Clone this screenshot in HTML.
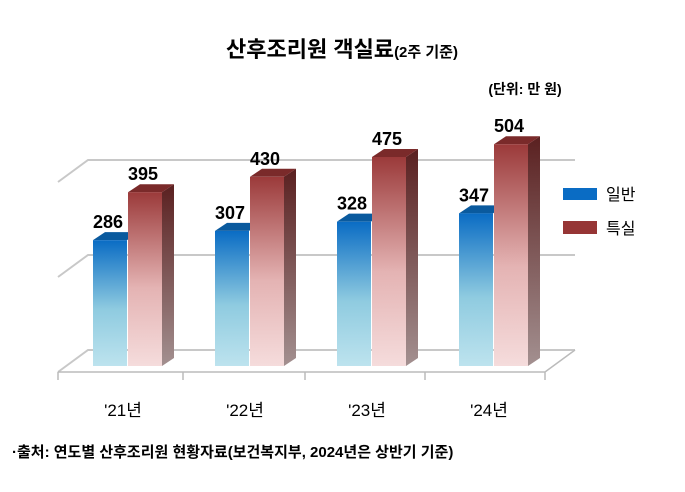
<!DOCTYPE html>
<html><head><meta charset="utf-8"><style>
body{margin:0;background:#fff;width:685px;height:487px;overflow:hidden;font-family:"Liberation Sans","Noto Sans CJK KR",sans-serif}
</style></head><body>
<svg width="685" height="487" font-family="Liberation Sans, Noto Sans CJK KR, sans-serif">
<defs>
<linearGradient id="gb" x1="0" y1="0" x2="0" y2="1"><stop offset="0" stop-color="#0a6cc4"/><stop offset="0.55" stop-color="#8fcbe0"/><stop offset="1" stop-color="#bde3ee"/></linearGradient>
<linearGradient id="gr" x1="0" y1="0" x2="0" y2="1"><stop offset="0" stop-color="#9b3a3a"/><stop offset="0.55" stop-color="#e4b3b3"/><stop offset="1" stop-color="#f5dcdc"/></linearGradient>
<linearGradient id="gs" x1="0" y1="0" x2="0" y2="1"><stop offset="0" stop-color="#5a2020"/><stop offset="1" stop-color="#a39090"/></linearGradient>
</defs>
<text x="342" y="57" text-anchor="middle" font-size="22" font-weight="bold">산후조리원 객실료<tspan font-size="15">(2주 기준)</tspan></text>
<text x="525" y="94" text-anchor="middle" font-size="14" font-weight="bold">(단위: 만 원)</text>
<g id="grid"></g>
<g id="bars"></g>
<g>
<rect x="563" y="188" width="34" height="12" fill="#0a6cc4"/>
<text x="606" y="200" font-size="16">일반</text>
<rect x="563" y="221" width="34" height="13" fill="#963535"/>
<text x="606" y="234" font-size="16">특실</text>
</g>
<text x="12" y="457" font-size="15" font-weight="bold">·출처:  연도별 산후조리원 현황자료(보건복지부, 2024년은 상반기 기준)</text>
</svg>
<script>
const categories=["'21년","'22년","'23년","'24년"];
const general=[286,307,328,347];
const special=[395,430,475,504];
const NS="http://www.w3.org/2000/svg";
const y0=366,k=0.44;
function yv(v){return y0-v*k;}
function gx(i){return 93+i*122;}
function mk(tag,attrs,parent){const e=document.createElementNS(NS,tag);for(const a in attrs)e.setAttribute(a,attrs[a]);parent.appendChild(e);return e;}
const grid=document.getElementById('grid'),bars=document.getElementById('bars');
[350,255,160].forEach(function(y){
 const g=mk('path',{d:`M58 ${y+22} L88 ${y} L575 ${y}`,stroke:'#c8c8c8','stroke-width':2,fill:'none'},grid);
 
 
});
const fl=mk('path',{d:'M58 372 L545 372 L575 350 M58 372 L58 380 M183 372 L183 380 M305 372 L305 380 M425 372 L425 380 M545 372 L545 380',stroke:'#bbb','stroke-width':1.5,fill:'none'},grid);


function bar(x,v,fill,topc,name,side){
 const t=yv(v),w=34,ox=12,oy=-8;
 const g=mk('g',{},bars);
 
 
 if(side)mk('polygon',{points:`${x+w},${t} ${x+w+ox},${t+oy} ${x+w+ox},${y0+oy} ${x+w},${y0}`,fill:'url(#gs)'},g);
 mk('polygon',{points:`${x},${t} ${x+ox},${t+oy} ${x+w+ox},${t+oy} ${x+w},${t}`,fill:topc},g);
 mk('rect',{x:x,y:t,width:w,height:y0-t,fill:fill},g);
 const lb=mk('text',{x:x+w/2-2,y:t-12,'text-anchor':'middle','font-size':18,'font-weight':'bold'},bars);
 
 
 lb.textContent=v;
}
categories.forEach(function(c,i){
 const x=gx(i);
 bar(x,general[i],'url(#gb)','#0a5a9e','bar-general-'+i,false);
 bar(x+35,special[i],'url(#gr)','#7a2a2a','bar-special-'+i,true);
 const t=mk('text',{x:x+30,y:416,'text-anchor':'middle','font-size':17},bars);
 
 
 t.textContent=c;
});
</script>
</body></html>
